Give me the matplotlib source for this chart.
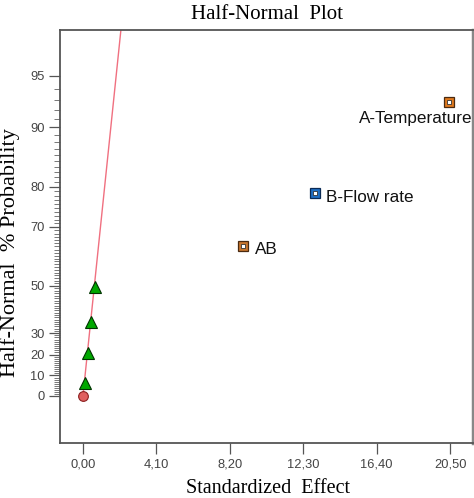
from statistics import NormalDist
import matplotlib.pyplot as plt

# half-normal probability scale: z = Phi^-1(0.5 + p/200)
nd = NormalDist()


def hn(p):
    return nd.inv_cdf(0.5 + p / 200.0)


# effects
err_x = [0.00]
err_p = [0.0]
tri_x = [0.11, 0.30, 0.46, 0.67]
tri_p = [6.5, 20.6, 35.1, 49.5]
term_names = ['A-Temperature', 'B-Flow rate', 'AB']
term_x = [20.45, 12.96, 8.96]
term_p = [92.8, 78.5, 64.3]
term_colors = ['#E07A1E', '#1F6FC4', '#C8762E']

# fitted line (through origin), z = effect / slope
line_x = [0.0, 2.6]
line_slope = 0.946

y_ticks = [0, 10, 20, 30, 50, 70, 80, 90, 95]
x_ticks = [0.0, 4.1, 8.2, 12.3, 16.4, 20.5]
x_tick_labels = ['0,00', '4,10', '8,20', '12,30', '16,40', '20,50']

fig = plt.figure(figsize=(4.74, 4.98), dpi=100)
ax = fig.add_axes([0.1266, 0.1104, 0.998 - 0.1266, 0.9398 - 0.1104])

ax.plot(line_x, [v / line_slope for v in line_x], color='#F07080', lw=1.0, zorder=1)

ax.plot(err_x, [hn(p) for p in err_p], 'o', ms=7, mfc='#E06060', mec='#8B2020', mew=0.8, zorder=3)
ax.plot(tri_x, [hn(p) for p in tri_p], '^', ms=9, mfc='#00A800', mec='#003300', mew=0.8, zorder=3)

offsets = [(16.5, -11.5, 'right'), (8, -3, 'left'), (8, -3, 'left')]
for name, x, p, c, (dx, dy, ha) in zip(term_names, term_x, term_p, term_colors, offsets):
    z = hn(p)
    ax.plot(x, z, 's', ms=7.5, mfc=c, mec='#4A2A10' if c != '#1F6FC4' else '#0A2A55', mew=0.9, zorder=3)
    ax.plot(x, z, 's', ms=3.4, mfc='white', mec='#333333', mew=0.6, zorder=4)
    ax.annotate(name, (x, z), xytext=(dx, dy), textcoords='offset points',
                ha=ha, va='center', fontsize=12.3, family='Liberation Sans', color='#111111')

ax.set_xlim(-1.28, 21.78)
ax.set_ylim(-0.288, 2.241)

ax.set_xticks(x_ticks)
ax.set_xticklabels(x_tick_labels)
ax.set_yticks([hn(p) for p in y_ticks])
ax.set_yticklabels([str(p) for p in y_ticks])
minor = [hn(p) for p in range(1, 95) if p not in y_ticks]
ax.set_yticks(minor, minor=True)

ax.tick_params(axis='both', which='major', direction='out', length=8, width=0.9,
               color='#555555', labelcolor='#444444', labelsize=9.3)
ax.tick_params(axis='y', which='minor', direction='out', length=4, width=0.7, color='#777777')
for lab in ax.get_xticklabels() + ax.get_yticklabels():
    lab.set_family('Liberation Sans')
ax.tick_params(axis='x', pad=3)
ax.tick_params(axis='y', pad=3)

for s in ax.spines.values():
    s.set_color('#555555')
    s.set_linewidth(1.3)
ax.spines['right'].set_linewidth(2.5)
ax.spines['right'].set_color('#888888')

ax.set_title('Half-Normal  Plot', family='Liberation Serif', fontsize=15, pad=8)
ax.set_xlabel('Standardized  Effect', family='Liberation Serif', fontsize=14.5)
ax.set_ylabel('Half-Normal  % Probability', family='Liberation Serif', fontsize=16)
ax.xaxis.set_label_coords(0.503, -0.088)
ax.yaxis.set_label_coords(-0.097, 0.462)

fig.savefig('out.png', dpi=100)
